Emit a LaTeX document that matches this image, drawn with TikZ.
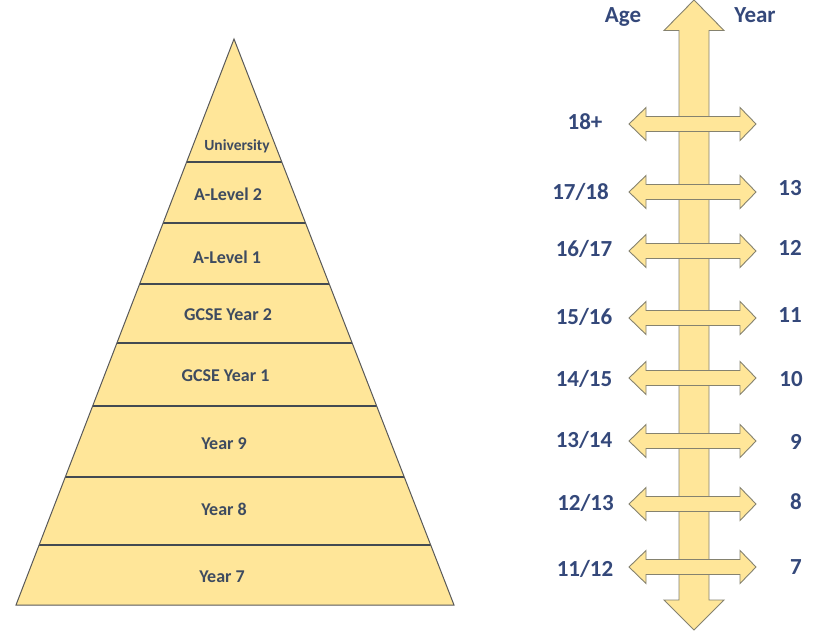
\documentclass[tikz,border=0pt]{standalone}
\usepackage{fontspec}
\setmainfont{Carlito}
\usetikzlibrary{calc}
\definecolor{gold}{HTML}{FFE699}
\definecolor{txt}{HTML}{3E4B60}
\definecolor{txtb}{HTML}{34487A}
\definecolor{pedge}{HTML}{595959}
\definecolor{sepc}{HTML}{434A52}
\definecolor{aedge}{HTML}{85826F}
\begin{document}
\begin{tikzpicture}[x=1pt,y=-1pt,
  lev/.style={font=\fontsize{18}{20}\selectfont\bfseries, text=txt, inner sep=0pt, anchor=base},
  levs/.style={font=\fontsize{15.5}{18}\selectfont\bfseries, text=txt, inner sep=0pt, anchor=base},
  agel/.style={font=\fontsize{23}{26}\selectfont\bfseries, text=txtb, inner sep=0pt, anchor=base},
  yearl/.style={font=\fontsize{23}{26}\selectfont\bfseries, text=txtb, inner sep=0pt, anchor=base east},
  arrowshape/.style={fill=gold, draw=aedge, line width=0.9pt, line join=miter},
  sepline/.style={draw=sepc, line width=2.3pt},
  pyr/.style={draw=pedge, line width=1pt, line join=miter}]
\useasboundingbox (0,0) rectangle (821,632);

% pyramid
\coordinate (A) at (234,39);
\coordinate (BL) at (16,605);
\coordinate (BR) at (454,605);
\fill[gold] (A) -- (BR) -- (BL) -- cycle;
\foreach \yy in {162,223,284,343,406,477,545} {
  \draw[sepline] ($(A)!{(\yy-39)/566}!(BL)$) -- ($(A)!{(\yy-39)/566}!(BR)$);
}
\draw[pyr] (A) -- (BR) -- (BL) -- cycle;

\node[levs] (uni) at (237,150) {University};
\node[lev] (al2) at (228,200.8) {A-Level 2};
\node[lev] (al1) at (227,263.8) {A-Level 1};
\node[lev] (gc2) at (228,320.8) {GCSE Year 2};
\node[lev] (gc1) at (225.5,381.8) {GCSE Year 1};
\node[lev] (y9) at (224,449.8) {Year 9};
\node[lev] (y8) at (224,515.8) {Year 8};
\node[lev] (y7) at (222,582.8) {Year 7};

% vertical double arrow
\draw[arrowshape] (694,0) -- (724,30.5) -- (709,30.5) -- (709,600) -- (724,600)
  -- (694,630) -- (664,600) -- (679,600) -- (679,30.5) -- (664,30.5) -- cycle;

% horizontal double arrows
\foreach \yy in {124,192,251,318,378,441,504,567} {
  \draw[arrowshape] (629,\yy) -- (646,\yy-16.5) -- (646,\yy-7.5) -- (740,\yy-7.5)
    -- (740,\yy-16.5) -- (756,\yy) -- (740,\yy+16.5) -- (740,\yy+7.5)
    -- (646,\yy+7.5) -- (646,\yy+16.5) -- cycle;
}

% headings
\node[agel] (agehd) at (623,22.5) {Age};
\node[agel] (yearhd) at (755,22.5) {Year};

% age labels
\node[agel] (a18) at (585,129.4) {18+};
\node[agel] (a17) at (580.5,199.4) {17/18};
\node[agel] (a16) at (584,256.4) {16/17};
\node[agel] (a15) at (584,324.4) {15/16};
\node[agel] (a14) at (584,386.4) {14/15};
\node[agel] (a13) at (584,447.4) {13/14};
\node[agel] (a12) at (585.5,510.4) {12/13};
\node[agel] (a11) at (585,576.4) {11/12};

% year labels
\node[yearl] (r13) at (802,195.4) {13};
\node[yearl] (r12) at (802,255.4) {12};
\node[yearl] (r11) at (802,322.4) {11};
\node[yearl] (r10) at (803,386.4) {10};
\node[yearl] (r9) at (802,449.4) {9};
\node[yearl] (r8) at (802,509.4) {8};
\node[yearl] (r7) at (802,574.4) {7};
\end{tikzpicture}
\end{document}
